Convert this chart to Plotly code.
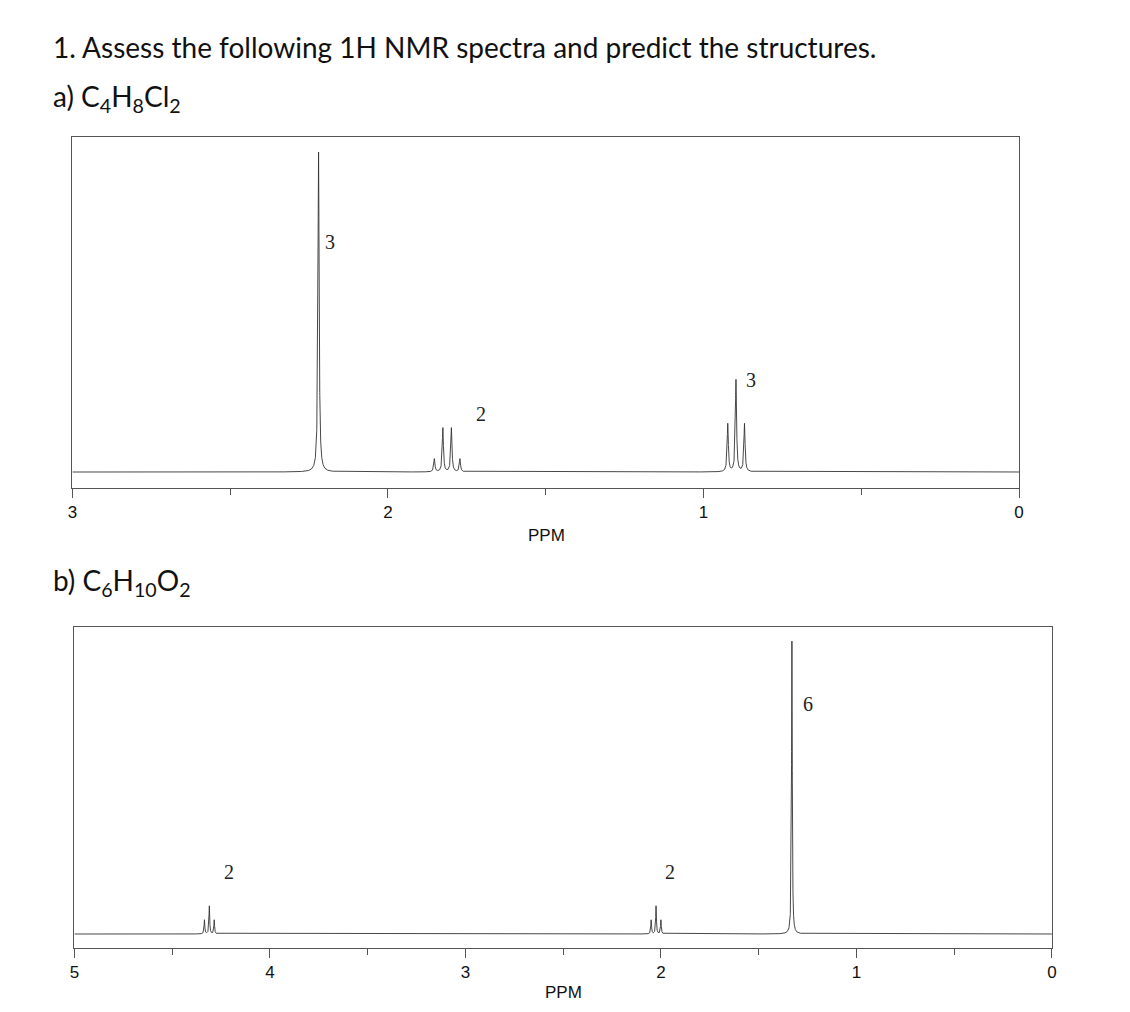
import numpy as np
import plotly.graph_objects as go

W, H = 1130, 1012
# Spectrum a) C4H8Cl2 : peak positions (ppm) and heights
a_ppm = [2.22, 1.853, 1.826, 1.799, 1.772, 0.923, 0.897, 0.870]
a_h = [320, 13, 44, 44, 13, 48, 92, 48]
a_labels = [(2.185, 230, "3"), (1.705, 58, "2"), (0.85, 92, "3")]
# Spectrum b) C6H10O2
b_ppm = [4.335, 4.31, 4.285, 2.05, 2.025, 2.0, 1.33]
b_h = [14, 28, 14, 14, 28, 14, 293]
b_labels = [(4.21, 62, "2"), (1.955, 62, "2"), (1.25, 230, "6")]
a_ticks = [3, 2, 1, 0]
b_ticks = [5, 4, 3, 2, 1, 0]

def spectrum(ppm, h, lo, hi, g=0.0022):
    x = np.linspace(lo, hi, 30000)
    y = np.zeros_like(x)
    for p, a in zip(ppm, h):
        y += a * g**2 / ((x - p)**2 + g**2)
    return x, y

def cx(x): return (x - 10.4) / 0.9937
def cy(y): return y - 8
def px(x0, x1): return [cx(x0) / W, cx(x1) / W]
def py(y0, y1): return [1 - cy(y1) / H, 1 - cy(y0) / H]

fig = go.Figure()
xa, ya = spectrum(a_ppm, a_h, 0, 3)
xb, yb = spectrum(b_ppm, b_h, 0, 5)
fig.add_trace(go.Scatter(x=xa, y=ya, mode="lines", line=dict(color="#333", width=0.9), xaxis="x", yaxis="y", hoverinfo="skip"))
fig.add_trace(go.Scatter(x=xb, y=yb, mode="lines", line=dict(color="#333", width=0.9), xaxis="x2", yaxis="y2", hoverinfo="skip"))

axcommon = dict(showline=True, linecolor="#555", linewidth=1, mirror=True, showgrid=False, zeroline=False,
                ticks="outside", ticklen=9, tickcolor="#555", tickfont=dict(family="Liberation Sans", size=17, color="#111"),
                minor=dict(ticks="outside", ticklen=6, dtick=0.5, tickcolor="#555"))
ycommon = dict(showline=True, linecolor="#555", linewidth=1, mirror=True, showgrid=False, zeroline=False, showticklabels=False, ticks="")

fig.update_layout(
    width=W, height=H, margin=dict(l=0, r=0, t=0, b=0), plot_bgcolor="white", paper_bgcolor="white", showlegend=False,
    xaxis=dict(domain=px(70, 1019), range=[3, 0], tickvals=a_ticks, anchor="y", **axcommon),
    yaxis=dict(domain=py(137, 488), range=[-16, 335], anchor="x", **ycommon),
    xaxis2=dict(domain=px(72, 1052), range=[5, 0], tickvals=b_ticks, anchor="y2", **axcommon),
    yaxis2=dict(domain=py(627, 948), range=[-14, 307], anchor="x2", **ycommon),
)
for x, y, t in a_labels:
    fig.add_annotation(x=x, y=y, xref="x", yref="y", text=t, showarrow=False, font=dict(family="Liberation Serif", size=20, color="#222"))
for x, y, t in b_labels:
    fig.add_annotation(x=x, y=y, xref="x2", yref="y2", text=t, showarrow=False, font=dict(family="Liberation Serif", size=20, color="#222"))

def txt(x, y, t, size, fam="Lato", anchor="left"):
    fig.add_annotation(x=cx(x) / W, y=1 - cy(y) / H, xref="paper", yref="paper", text=t, showarrow=False,
                       xanchor=anchor, yanchor="middle", font=dict(family=fam, size=size, color="#111"))
txt(48, 47, "1. Assess the following 1H NMR spectra and predict the structures.", 28)
txt(48, 98, "a) C<sub>4</sub>H<sub>8</sub>Cl<sub>2</sub>", 28)
txt(48, 582, "b) C<sub>6</sub>H<sub>10</sub>O<sub>2</sub>", 28)
txt(545, 535, "PPM", 17, "Liberation Sans", "center")
txt(562, 992, "PPM", 17, "Liberation Sans", "center")
fig.write_html("out.html")
